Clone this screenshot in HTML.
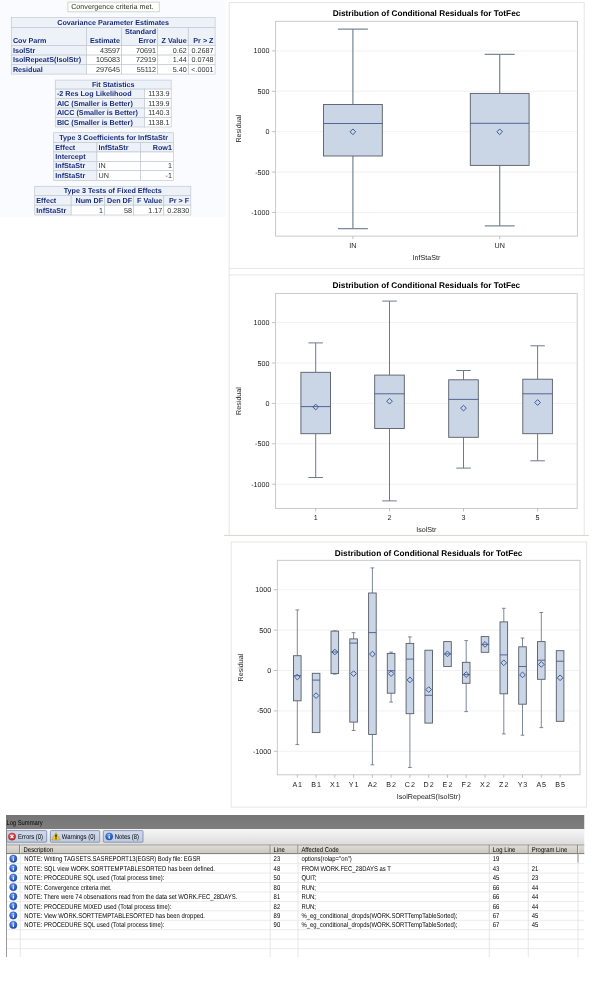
<!DOCTYPE html><html><head><meta charset="utf-8"><title>SAS Output</title><style>
html,body{margin:0;padding:0;background:#ffffff;}
body{width:610px;height:999px;overflow:hidden;}
svg{display:block;}
text{font-family:"Liberation Sans",sans-serif;text-rendering:geometricPrecision;}
.th{font-size:7.2px;font-weight:bold;fill:#1b2d7a;}
.td{font-size:7.2px;fill:#363636;}
.ax{font-size:7.15px;fill:#1c1c1c;}
.ti{font-size:8.28px;font-weight:bold;fill:#000;}
.lg{font-size:7.0px;fill:#000;}
</style></head><body>
<svg width="610" height="999" viewBox="0 0 610 999">
<rect x="0" y="0" width="225.7" height="217" fill="#fafbfe"/>
<rect x="67.9" y="2.1" width="91.3" height="9.7" fill="#fffffa" stroke="#c9c9c9" stroke-width="0.8"/>
<text class="td" x="112.3" y="9.0" text-anchor="middle" style="fill:#2c2c2c">Convergence criteria met.</text>
<rect x="11.30" y="17.60" width="203.80" height="9.90" fill="#edf2f9" stroke="#c3c8d2" stroke-width="0.7"/>
<text class="th" x="113.20" y="25.00" text-anchor="middle">Covariance Parameter Estimates</text>
<rect x="11.30" y="27.50" width="75.20" height="18.10" fill="#edf2f9" stroke="#c3c8d2" stroke-width="0.7"/>
<text class="th" x="12.90" y="43.10" text-anchor="start">Cov Parm</text>
<rect x="86.50" y="27.50" width="35.10" height="18.10" fill="#edf2f9" stroke="#c3c8d2" stroke-width="0.7"/>
<text class="th" x="120.00" y="43.10" text-anchor="end">Estimate</text>
<rect x="121.60" y="27.50" width="36.10" height="18.10" fill="#edf2f9" stroke="#c3c8d2" stroke-width="0.7"/>
<text class="th" x="156.10" y="34.00" text-anchor="end">Standard</text>
<text class="th" x="156.10" y="43.10" text-anchor="end">Error</text>
<rect x="157.70" y="27.50" width="30.60" height="18.10" fill="#edf2f9" stroke="#c3c8d2" stroke-width="0.7"/>
<text class="th" x="186.70" y="43.10" text-anchor="end">Z Value</text>
<rect x="188.30" y="27.50" width="26.80" height="18.10" fill="#edf2f9" stroke="#c3c8d2" stroke-width="0.7"/>
<text class="th" x="213.50" y="43.10" text-anchor="end">Pr &gt; Z</text>
<rect x="11.30" y="45.60" width="75.20" height="9.50" fill="#edf2f9" stroke="#c3c8d2" stroke-width="0.7"/>
<text class="th" x="12.90" y="52.60" text-anchor="start">IsolStr</text>
<rect x="86.50" y="45.60" width="35.10" height="9.50" fill="#ffffff" stroke="#c3c8d2" stroke-width="0.7"/>
<text class="td" x="120.00" y="52.60" text-anchor="end">43597</text>
<rect x="121.60" y="45.60" width="36.10" height="9.50" fill="#ffffff" stroke="#c3c8d2" stroke-width="0.7"/>
<text class="td" x="156.10" y="52.60" text-anchor="end">70691</text>
<rect x="157.70" y="45.60" width="30.60" height="9.50" fill="#ffffff" stroke="#c3c8d2" stroke-width="0.7"/>
<text class="td" x="186.70" y="52.60" text-anchor="end">0.62</text>
<rect x="188.30" y="45.60" width="26.80" height="9.50" fill="#ffffff" stroke="#c3c8d2" stroke-width="0.7"/>
<text class="td" x="213.50" y="52.60" text-anchor="end">0.2687</text>
<rect x="11.30" y="55.10" width="75.20" height="9.60" fill="#edf2f9" stroke="#c3c8d2" stroke-width="0.7"/>
<text class="th" x="12.90" y="62.20" text-anchor="start">IsolRepeatS(IsolStr)</text>
<rect x="86.50" y="55.10" width="35.10" height="9.60" fill="#ffffff" stroke="#c3c8d2" stroke-width="0.7"/>
<text class="td" x="120.00" y="62.20" text-anchor="end">105083</text>
<rect x="121.60" y="55.10" width="36.10" height="9.60" fill="#ffffff" stroke="#c3c8d2" stroke-width="0.7"/>
<text class="td" x="156.10" y="62.20" text-anchor="end">72919</text>
<rect x="157.70" y="55.10" width="30.60" height="9.60" fill="#ffffff" stroke="#c3c8d2" stroke-width="0.7"/>
<text class="td" x="186.70" y="62.20" text-anchor="end">1.44</text>
<rect x="188.30" y="55.10" width="26.80" height="9.60" fill="#ffffff" stroke="#c3c8d2" stroke-width="0.7"/>
<text class="td" x="213.50" y="62.20" text-anchor="end">0.0748</text>
<rect x="11.30" y="64.70" width="75.20" height="9.40" fill="#edf2f9" stroke="#c3c8d2" stroke-width="0.7"/>
<text class="th" x="12.90" y="71.60" text-anchor="start">Residual</text>
<rect x="86.50" y="64.70" width="35.10" height="9.40" fill="#ffffff" stroke="#c3c8d2" stroke-width="0.7"/>
<text class="td" x="120.00" y="71.60" text-anchor="end">297645</text>
<rect x="121.60" y="64.70" width="36.10" height="9.40" fill="#ffffff" stroke="#c3c8d2" stroke-width="0.7"/>
<text class="td" x="156.10" y="71.60" text-anchor="end">55112</text>
<rect x="157.70" y="64.70" width="30.60" height="9.40" fill="#ffffff" stroke="#c3c8d2" stroke-width="0.7"/>
<text class="td" x="186.70" y="71.60" text-anchor="end">5.40</text>
<rect x="188.30" y="64.70" width="26.80" height="9.40" fill="#ffffff" stroke="#c3c8d2" stroke-width="0.7"/>
<text class="td" x="213.50" y="71.60" text-anchor="end">&lt;.0001</text>
<rect x="55.30" y="80.10" width="115.90" height="9.00" fill="#edf2f9" stroke="#c3c8d2" stroke-width="0.7"/>
<text class="th" x="113.25" y="86.60" text-anchor="middle">Fit Statistics</text>
<rect x="55.30" y="89.10" width="89.10" height="9.40" fill="#edf2f9" stroke="#c3c8d2" stroke-width="0.7"/>
<text class="th" x="56.90" y="96.00" text-anchor="start">-2 Res Log Likelihood</text>
<rect x="144.40" y="89.10" width="26.80" height="9.40" fill="#ffffff" stroke="#c3c8d2" stroke-width="0.7"/>
<text class="td" x="169.60" y="96.00" text-anchor="end">1133.9</text>
<rect x="55.30" y="98.50" width="89.10" height="9.60" fill="#edf2f9" stroke="#c3c8d2" stroke-width="0.7"/>
<text class="th" x="56.90" y="105.60" text-anchor="start">AIC (Smaller is Better)</text>
<rect x="144.40" y="98.50" width="26.80" height="9.60" fill="#ffffff" stroke="#c3c8d2" stroke-width="0.7"/>
<text class="td" x="169.60" y="105.60" text-anchor="end">1139.9</text>
<rect x="55.30" y="108.10" width="89.10" height="9.40" fill="#edf2f9" stroke="#c3c8d2" stroke-width="0.7"/>
<text class="th" x="56.90" y="115.00" text-anchor="start">AICC (Smaller is Better)</text>
<rect x="144.40" y="108.10" width="26.80" height="9.40" fill="#ffffff" stroke="#c3c8d2" stroke-width="0.7"/>
<text class="td" x="169.60" y="115.00" text-anchor="end">1140.3</text>
<rect x="55.30" y="117.50" width="89.10" height="9.50" fill="#edf2f9" stroke="#c3c8d2" stroke-width="0.7"/>
<text class="th" x="56.90" y="124.50" text-anchor="start">BIC (Smaller is Better)</text>
<rect x="144.40" y="117.50" width="26.80" height="9.50" fill="#ffffff" stroke="#c3c8d2" stroke-width="0.7"/>
<text class="td" x="169.60" y="124.50" text-anchor="end">1138.1</text>
<rect x="53.70" y="132.70" width="119.80" height="9.80" fill="#edf2f9" stroke="#c3c8d2" stroke-width="0.7"/>
<text class="th" x="113.60" y="140.00" text-anchor="middle">Type 3 Coefficients for InfStaStr</text>
<rect x="53.70" y="142.50" width="43.20" height="9.50" fill="#edf2f9" stroke="#c3c8d2" stroke-width="0.7"/>
<text class="th" x="55.30" y="149.50" text-anchor="start">Effect</text>
<rect x="96.90" y="142.50" width="43.70" height="9.50" fill="#edf2f9" stroke="#c3c8d2" stroke-width="0.7"/>
<text class="th" x="98.50" y="149.50" text-anchor="start">InfStaStr</text>
<rect x="140.60" y="142.50" width="32.90" height="9.50" fill="#edf2f9" stroke="#c3c8d2" stroke-width="0.7"/>
<text class="th" x="171.90" y="149.50" text-anchor="end">Row1</text>
<rect x="53.70" y="152.00" width="43.20" height="9.40" fill="#edf2f9" stroke="#c3c8d2" stroke-width="0.7"/>
<text class="th" x="55.30" y="158.90" text-anchor="start">Intercept</text>
<rect x="96.90" y="152.00" width="43.70" height="9.40" fill="#ffffff" stroke="#c3c8d2" stroke-width="0.7"/>
<rect x="140.60" y="152.00" width="32.90" height="9.40" fill="#ffffff" stroke="#c3c8d2" stroke-width="0.7"/>
<rect x="53.70" y="161.40" width="43.20" height="9.30" fill="#edf2f9" stroke="#c3c8d2" stroke-width="0.7"/>
<text class="th" x="55.30" y="168.20" text-anchor="start">InfStaStr</text>
<rect x="96.90" y="161.40" width="43.70" height="9.30" fill="#ffffff" stroke="#c3c8d2" stroke-width="0.7"/>
<text class="td" x="98.50" y="168.20" text-anchor="start">IN</text>
<rect x="140.60" y="161.40" width="32.90" height="9.30" fill="#ffffff" stroke="#c3c8d2" stroke-width="0.7"/>
<text class="td" x="171.90" y="168.20" text-anchor="end">1</text>
<rect x="53.70" y="170.70" width="43.20" height="9.70" fill="#edf2f9" stroke="#c3c8d2" stroke-width="0.7"/>
<text class="th" x="55.30" y="177.90" text-anchor="start">InfStaStr</text>
<rect x="96.90" y="170.70" width="43.70" height="9.70" fill="#ffffff" stroke="#c3c8d2" stroke-width="0.7"/>
<text class="td" x="98.50" y="177.90" text-anchor="start">UN</text>
<rect x="140.60" y="170.70" width="32.90" height="9.70" fill="#ffffff" stroke="#c3c8d2" stroke-width="0.7"/>
<text class="td" x="171.90" y="177.90" text-anchor="end">-1</text>
<rect x="34.70" y="186.30" width="156.10" height="9.40" fill="#edf2f9" stroke="#c3c8d2" stroke-width="0.7"/>
<text class="th" x="112.75" y="193.20" text-anchor="middle">Type 3 Tests of Fixed Effects</text>
<rect x="34.70" y="195.70" width="36.50" height="9.50" fill="#edf2f9" stroke="#c3c8d2" stroke-width="0.7"/>
<text class="th" x="36.30" y="202.70" text-anchor="start">Effect</text>
<rect x="71.20" y="195.70" width="33.50" height="9.50" fill="#edf2f9" stroke="#c3c8d2" stroke-width="0.7"/>
<text class="th" x="103.10" y="202.70" text-anchor="end">Num DF</text>
<rect x="104.70" y="195.70" width="29.00" height="9.50" fill="#edf2f9" stroke="#c3c8d2" stroke-width="0.7"/>
<text class="th" x="132.10" y="202.70" text-anchor="end">Den DF</text>
<rect x="133.70" y="195.70" width="30.10" height="9.50" fill="#edf2f9" stroke="#c3c8d2" stroke-width="0.7"/>
<text class="th" x="162.20" y="202.70" text-anchor="end">F Value</text>
<rect x="163.80" y="195.70" width="27.00" height="9.50" fill="#edf2f9" stroke="#c3c8d2" stroke-width="0.7"/>
<text class="th" x="189.20" y="202.70" text-anchor="end">Pr &gt; F</text>
<rect x="34.70" y="205.20" width="36.50" height="9.80" fill="#edf2f9" stroke="#c3c8d2" stroke-width="0.7"/>
<text class="th" x="36.30" y="212.50" text-anchor="start">InfStaStr</text>
<rect x="71.20" y="205.20" width="33.50" height="9.80" fill="#ffffff" stroke="#c3c8d2" stroke-width="0.7"/>
<text class="td" x="103.10" y="212.50" text-anchor="end">1</text>
<rect x="104.70" y="205.20" width="29.00" height="9.80" fill="#ffffff" stroke="#c3c8d2" stroke-width="0.7"/>
<text class="td" x="132.10" y="212.50" text-anchor="end">58</text>
<rect x="133.70" y="205.20" width="30.10" height="9.80" fill="#ffffff" stroke="#c3c8d2" stroke-width="0.7"/>
<text class="td" x="162.20" y="212.50" text-anchor="end">1.17</text>
<rect x="163.80" y="205.20" width="27.00" height="9.80" fill="#ffffff" stroke="#c3c8d2" stroke-width="0.7"/>
<text class="td" x="189.20" y="212.50" text-anchor="end">0.2830</text>
<rect x="229.2" y="2.6" width="355.00" height="266.00" fill="#ffffff" stroke="#e1e3e7" stroke-width="0.9"/><line x1="275.6" y1="50.90" x2="577.4" y2="50.90" stroke="#eeeeee" stroke-width="0.8"/><line x1="272.20" y1="50.90" x2="275.6" y2="50.90" stroke="#b0b0b0" stroke-width="0.8"/><text class="ax" x="269.50" y="53.45" text-anchor="end">1000</text><line x1="275.6" y1="91.30" x2="577.4" y2="91.30" stroke="#eeeeee" stroke-width="0.8"/><line x1="272.20" y1="91.30" x2="275.6" y2="91.30" stroke="#b0b0b0" stroke-width="0.8"/><text class="ax" x="269.50" y="93.85" text-anchor="end">500</text><line x1="275.6" y1="131.70" x2="577.4" y2="131.70" stroke="#eeeeee" stroke-width="0.8"/><line x1="272.20" y1="131.70" x2="275.6" y2="131.70" stroke="#b0b0b0" stroke-width="0.8"/><text class="ax" x="269.50" y="134.25" text-anchor="end">0</text><line x1="275.6" y1="172.10" x2="577.4" y2="172.10" stroke="#eeeeee" stroke-width="0.8"/><line x1="272.20" y1="172.10" x2="275.6" y2="172.10" stroke="#b0b0b0" stroke-width="0.8"/><text class="ax" x="269.50" y="174.65" text-anchor="end">-500</text><line x1="275.6" y1="212.50" x2="577.4" y2="212.50" stroke="#eeeeee" stroke-width="0.8"/><line x1="272.20" y1="212.50" x2="275.6" y2="212.50" stroke="#b0b0b0" stroke-width="0.8"/><text class="ax" x="269.50" y="215.05" text-anchor="end">-1000</text><rect x="275.6" y="21.3" width="301.80" height="214.80" fill="none" stroke="#c2c2c2" stroke-width="0.85"/><text class="ti" x="426.50" y="16.45" text-anchor="middle">Distribution of Conditional Residuals for TotFec</text><text class="ax" x="426.50" y="260.15" text-anchor="middle">InfStaStr</text><text class="ax" transform="translate(240.85,128.70) rotate(-90)" text-anchor="middle">Residual</text><line x1="352.9" y1="236.1" x2="352.9" y2="239.1" stroke="#b0b0b0" stroke-width="0.8"/><text class="ax" x="352.9" y="247.85" text-anchor="middle" style="word-spacing:-0.9px">IN</text><path d="M352.9 29.1V104.5M352.9 156.0V228.5M337.90 29.1H367.90M337.90 228.5H367.90" stroke="#7a899c" stroke-width="1.25" fill="none"/><rect x="323.50" y="104.5" width="58.8" height="51.50" fill="#cad5e5" stroke="#565d68" stroke-width="0.9"/><line x1="323.50" y1="123.5" x2="382.30" y2="123.5" stroke="#44598f" stroke-width="0.9"/><path d="M352.9 128.95L355.75 131.8L352.9 134.65L350.05 131.8Z" fill="none" stroke="#3f5a9a" stroke-width="1.0"/><line x1="499.7" y1="236.1" x2="499.7" y2="239.1" stroke="#b0b0b0" stroke-width="0.8"/><text class="ax" x="499.7" y="247.85" text-anchor="middle" style="word-spacing:-0.9px">UN</text><path d="M499.7 54.3V93.4M499.7 165.4V225.8M484.70 54.3H514.70M484.70 225.8H514.70" stroke="#7a899c" stroke-width="1.25" fill="none"/><rect x="470.30" y="93.4" width="58.8" height="72.00" fill="#cad5e5" stroke="#565d68" stroke-width="0.9"/><line x1="470.30" y1="123.3" x2="529.10" y2="123.3" stroke="#44598f" stroke-width="0.9"/><path d="M499.7 128.95L502.55 131.8L499.7 134.65L496.85 131.8Z" fill="none" stroke="#3f5a9a" stroke-width="1.0"/>
<rect x="229.2" y="274.9" width="355.00" height="265.10" fill="#ffffff" stroke="#e1e3e7" stroke-width="0.9"/><line x1="275.5" y1="322.60" x2="577.2" y2="322.60" stroke="#eeeeee" stroke-width="0.8"/><line x1="272.10" y1="322.60" x2="275.5" y2="322.60" stroke="#b0b0b0" stroke-width="0.8"/><text class="ax" x="269.40" y="325.15" text-anchor="end">1000</text><line x1="275.5" y1="363.00" x2="577.2" y2="363.00" stroke="#eeeeee" stroke-width="0.8"/><line x1="272.10" y1="363.00" x2="275.5" y2="363.00" stroke="#b0b0b0" stroke-width="0.8"/><text class="ax" x="269.40" y="365.55" text-anchor="end">500</text><line x1="275.5" y1="403.40" x2="577.2" y2="403.40" stroke="#eeeeee" stroke-width="0.8"/><line x1="272.10" y1="403.40" x2="275.5" y2="403.40" stroke="#b0b0b0" stroke-width="0.8"/><text class="ax" x="269.40" y="405.95" text-anchor="end">0</text><line x1="275.5" y1="443.80" x2="577.2" y2="443.80" stroke="#eeeeee" stroke-width="0.8"/><line x1="272.10" y1="443.80" x2="275.5" y2="443.80" stroke="#b0b0b0" stroke-width="0.8"/><text class="ax" x="269.40" y="446.35" text-anchor="end">-500</text><line x1="275.5" y1="484.20" x2="577.2" y2="484.20" stroke="#eeeeee" stroke-width="0.8"/><line x1="272.10" y1="484.20" x2="275.5" y2="484.20" stroke="#b0b0b0" stroke-width="0.8"/><text class="ax" x="269.40" y="486.75" text-anchor="end">-1000</text><rect x="275.5" y="293.6" width="301.70" height="214.80" fill="none" stroke="#c2c2c2" stroke-width="0.85"/><text class="ti" x="426.35" y="288.45" text-anchor="middle">Distribution of Conditional Residuals for TotFec</text><text class="ax" x="426.35" y="531.75" text-anchor="middle">IsolStr</text><text class="ax" transform="translate(240.85,401.00) rotate(-90)" text-anchor="middle">Residual</text><line x1="315.7" y1="508.4" x2="315.7" y2="511.4" stroke="#b0b0b0" stroke-width="0.8"/><text class="ax" x="315.7" y="520.15" text-anchor="middle" style="word-spacing:-0.9px">1</text><path d="M315.7 342.9V372.3M315.7 433.7V477.5M308.45 342.9H322.95M308.45 477.5H322.95" stroke="#6d7b8e" stroke-width="1.0" fill="none"/><rect x="300.90" y="372.3" width="29.6" height="61.40" fill="#cad5e5" stroke="#565d68" stroke-width="0.9"/><line x1="300.90" y1="406.6" x2="330.50" y2="406.6" stroke="#44598f" stroke-width="0.9"/><path d="M315.7 404.15L318.55 407.0L315.7 409.85L312.85 407.0Z" fill="none" stroke="#3f5a9a" stroke-width="1.0"/><line x1="389.5" y1="508.4" x2="389.5" y2="511.4" stroke="#b0b0b0" stroke-width="0.8"/><text class="ax" x="389.5" y="520.15" text-anchor="middle" style="word-spacing:-0.9px">2</text><path d="M389.5 301.1V375.1M389.5 428.5V500.9M382.25 301.1H396.75M382.25 500.9H396.75" stroke="#6d7b8e" stroke-width="1.0" fill="none"/><rect x="374.70" y="375.1" width="29.6" height="53.40" fill="#cad5e5" stroke="#565d68" stroke-width="0.9"/><line x1="374.70" y1="393.8" x2="404.30" y2="393.8" stroke="#44598f" stroke-width="0.9"/><path d="M389.5 398.35L392.35 401.2L389.5 404.05L386.65 401.2Z" fill="none" stroke="#3f5a9a" stroke-width="1.0"/><line x1="463.5" y1="508.4" x2="463.5" y2="511.4" stroke="#b0b0b0" stroke-width="0.8"/><text class="ax" x="463.5" y="520.15" text-anchor="middle" style="word-spacing:-0.9px">3</text><path d="M463.5 370.5V379.8M463.5 437.3V468.1M456.25 370.5H470.75M456.25 468.1H470.75" stroke="#6d7b8e" stroke-width="1.0" fill="none"/><rect x="448.70" y="379.8" width="29.6" height="57.50" fill="#cad5e5" stroke="#565d68" stroke-width="0.9"/><line x1="448.70" y1="399.4" x2="478.30" y2="399.4" stroke="#44598f" stroke-width="0.9"/><path d="M463.5 405.25L466.35 408.1L463.5 410.95L460.65 408.1Z" fill="none" stroke="#3f5a9a" stroke-width="1.0"/><line x1="537.6" y1="508.4" x2="537.6" y2="511.4" stroke="#b0b0b0" stroke-width="0.8"/><text class="ax" x="537.6" y="520.15" text-anchor="middle" style="word-spacing:-0.9px">5</text><path d="M537.6 345.8V379.2M537.6 433.7V460.8M530.35 345.8H544.85M530.35 460.8H544.85" stroke="#6d7b8e" stroke-width="1.0" fill="none"/><rect x="522.80" y="379.2" width="29.6" height="54.50" fill="#cad5e5" stroke="#565d68" stroke-width="0.9"/><line x1="522.80" y1="393.8" x2="552.40" y2="393.8" stroke="#44598f" stroke-width="0.9"/><path d="M537.6 399.65L540.45 402.5L537.6 405.35L534.75 402.5Z" fill="none" stroke="#3f5a9a" stroke-width="1.0"/>
<rect x="222" y="535.8" width="372" height="5.6" fill="#ffffff"/>
<line x1="224" y1="535.4" x2="589" y2="535.4" stroke="#d6d6cd" stroke-width="1"/>
<path d="M229.2 268V275.5M584.2 268V275.5" stroke="#e4e5ea" stroke-width="0.9" fill="none"/>
<rect x="231.2" y="542.0" width="355.30" height="265.10" fill="#ffffff" stroke="#e1e3e7" stroke-width="0.9"/><line x1="277.3" y1="589.70" x2="580.0" y2="589.70" stroke="#eeeeee" stroke-width="0.8"/><line x1="273.90" y1="589.70" x2="277.3" y2="589.70" stroke="#b0b0b0" stroke-width="0.8"/><text class="ax" x="271.20" y="592.25" text-anchor="end">1000</text><line x1="277.3" y1="630.10" x2="580.0" y2="630.10" stroke="#eeeeee" stroke-width="0.8"/><line x1="273.90" y1="630.10" x2="277.3" y2="630.10" stroke="#b0b0b0" stroke-width="0.8"/><text class="ax" x="271.20" y="632.65" text-anchor="end">500</text><line x1="277.3" y1="670.50" x2="580.0" y2="670.50" stroke="#eeeeee" stroke-width="0.8"/><line x1="273.90" y1="670.50" x2="277.3" y2="670.50" stroke="#b0b0b0" stroke-width="0.8"/><text class="ax" x="271.20" y="673.05" text-anchor="end">0</text><line x1="277.3" y1="710.90" x2="580.0" y2="710.90" stroke="#eeeeee" stroke-width="0.8"/><line x1="273.90" y1="710.90" x2="277.3" y2="710.90" stroke="#b0b0b0" stroke-width="0.8"/><text class="ax" x="271.20" y="713.45" text-anchor="end">-500</text><line x1="277.3" y1="751.30" x2="580.0" y2="751.30" stroke="#eeeeee" stroke-width="0.8"/><line x1="273.90" y1="751.30" x2="277.3" y2="751.30" stroke="#b0b0b0" stroke-width="0.8"/><text class="ax" x="271.20" y="753.85" text-anchor="end">-1000</text><rect x="277.3" y="560.3" width="302.70" height="214.50" fill="none" stroke="#c2c2c2" stroke-width="0.85"/><text class="ti" x="428.65" y="555.75" text-anchor="middle">Distribution of Conditional Residuals for TotFec</text><text class="ax" x="428.65" y="799.05" text-anchor="middle">IsolRepeatS(IsolStr)</text><text class="ax" transform="translate(242.85,667.55) rotate(-90)" text-anchor="middle">Residual</text><line x1="297.3" y1="774.8" x2="297.3" y2="777.8" stroke="#b0b0b0" stroke-width="0.8"/><text class="ax" x="297.3" y="787.15" text-anchor="middle" style="word-spacing:-0.9px">A 1</text><path d="M297.3 609.9V655.7M297.3 700.8V744.6M295.45 609.9H299.15M295.45 744.6H299.15" stroke="#65738a" stroke-width="0.85" fill="none"/><rect x="293.50" y="655.7" width="7.6" height="45.10" fill="#cad5e5" stroke="#565d68" stroke-width="0.9"/><line x1="293.50" y1="675.7" x2="301.10" y2="675.7" stroke="#44598f" stroke-width="0.9"/><path d="M297.3 674.15L300.15 677.0L297.3 679.85L294.45 677.0Z" fill="none" stroke="#3f5a9a" stroke-width="1.0"/><line x1="316.1" y1="774.8" x2="316.1" y2="777.8" stroke="#b0b0b0" stroke-width="0.8"/><text class="ax" x="316.1" y="787.15" text-anchor="middle" style="word-spacing:-0.9px">B 1</text><rect x="312.30" y="673.3" width="7.6" height="59.30" fill="#cad5e5" stroke="#565d68" stroke-width="0.9"/><line x1="312.30" y1="680.1" x2="319.90" y2="680.1" stroke="#44598f" stroke-width="0.9"/><path d="M316.1 692.75L318.95 695.6L316.1 698.45L313.25 695.6Z" fill="none" stroke="#3f5a9a" stroke-width="1.0"/><line x1="334.8" y1="774.8" x2="334.8" y2="777.8" stroke="#b0b0b0" stroke-width="0.8"/><text class="ax" x="334.8" y="787.15" text-anchor="middle" style="word-spacing:-0.9px">X 1</text><path d="M334.8 630.9V631.1M334.8 673.6V674.1M332.95 630.9H336.65M332.95 674.1H336.65" stroke="#65738a" stroke-width="0.85" fill="none"/><rect x="331.00" y="631.1" width="7.6" height="42.50" fill="#cad5e5" stroke="#565d68" stroke-width="0.9"/><line x1="331.00" y1="652.0" x2="338.60" y2="652.0" stroke="#44598f" stroke-width="0.9"/><path d="M334.8 649.15L337.65 652.0L334.8 654.85L331.95 652.0Z" fill="none" stroke="#3f5a9a" stroke-width="1.0"/><line x1="353.6" y1="774.8" x2="353.6" y2="777.8" stroke="#b0b0b0" stroke-width="0.8"/><text class="ax" x="353.6" y="787.15" text-anchor="middle" style="word-spacing:-0.9px">Y 1</text><path d="M353.6 632.7V638.9M353.6 722.1V730.5M351.75 632.7H355.45M351.75 730.5H355.45" stroke="#65738a" stroke-width="0.85" fill="none"/><rect x="349.80" y="638.9" width="7.6" height="83.20" fill="#cad5e5" stroke="#565d68" stroke-width="0.9"/><line x1="349.80" y1="643.1" x2="357.40" y2="643.1" stroke="#44598f" stroke-width="0.9"/><path d="M353.6 670.75L356.45 673.6L353.6 676.45L350.75 673.6Z" fill="none" stroke="#3f5a9a" stroke-width="1.0"/><line x1="372.4" y1="774.8" x2="372.4" y2="777.8" stroke="#b0b0b0" stroke-width="0.8"/><text class="ax" x="372.4" y="787.15" text-anchor="middle" style="word-spacing:-0.9px">A 2</text><path d="M372.4 567.9V593.0M372.4 734.4V764.8M370.55 567.9H374.25M370.55 764.8H374.25" stroke="#65738a" stroke-width="0.85" fill="none"/><rect x="368.60" y="593.0" width="7.6" height="141.40" fill="#cad5e5" stroke="#565d68" stroke-width="0.9"/><line x1="368.60" y1="632.6" x2="376.20" y2="632.6" stroke="#44598f" stroke-width="0.9"/><path d="M372.4 651.25L375.25 654.1L372.4 656.95L369.55 654.1Z" fill="none" stroke="#3f5a9a" stroke-width="1.0"/><line x1="391.1" y1="774.8" x2="391.1" y2="777.8" stroke="#b0b0b0" stroke-width="0.8"/><text class="ax" x="391.1" y="787.15" text-anchor="middle" style="word-spacing:-0.9px">B 2</text><path d="M391.1 652.1V653.4M391.1 693.2V702.1M389.25 652.1H392.95M389.25 702.1H392.95" stroke="#65738a" stroke-width="0.85" fill="none"/><rect x="387.30" y="653.4" width="7.6" height="39.80" fill="#cad5e5" stroke="#565d68" stroke-width="0.9"/><line x1="387.30" y1="670.7" x2="394.90" y2="670.7" stroke="#44598f" stroke-width="0.9"/><path d="M391.1 670.75L393.95 673.6L391.1 676.45L388.25 673.6Z" fill="none" stroke="#3f5a9a" stroke-width="1.0"/><line x1="409.9" y1="774.8" x2="409.9" y2="777.8" stroke="#b0b0b0" stroke-width="0.8"/><text class="ax" x="409.9" y="787.15" text-anchor="middle" style="word-spacing:-0.9px">C 2</text><path d="M409.9 636.9V643.4M409.9 713.7V767.5M408.05 636.9H411.75M408.05 767.5H411.75" stroke="#65738a" stroke-width="0.85" fill="none"/><rect x="406.10" y="643.4" width="7.6" height="70.30" fill="#cad5e5" stroke="#565d68" stroke-width="0.9"/><line x1="406.10" y1="659.1" x2="413.70" y2="659.1" stroke="#44598f" stroke-width="0.9"/><path d="M409.9 677.05L412.75 679.9L409.9 682.75L407.05 679.9Z" fill="none" stroke="#3f5a9a" stroke-width="1.0"/><line x1="428.7" y1="774.8" x2="428.7" y2="777.8" stroke="#b0b0b0" stroke-width="0.8"/><text class="ax" x="428.7" y="787.15" text-anchor="middle" style="word-spacing:-0.9px">D 2</text><rect x="424.90" y="650.2" width="7.6" height="72.90" fill="#cad5e5" stroke="#565d68" stroke-width="0.9"/><line x1="424.90" y1="695.3" x2="432.50" y2="695.3" stroke="#44598f" stroke-width="0.9"/><path d="M428.7 686.75L431.55 689.6L428.7 692.45L425.85 689.6Z" fill="none" stroke="#3f5a9a" stroke-width="1.0"/><line x1="447.5" y1="774.8" x2="447.5" y2="777.8" stroke="#b0b0b0" stroke-width="0.8"/><text class="ax" x="447.5" y="787.15" text-anchor="middle" style="word-spacing:-0.9px">E 2</text><rect x="443.70" y="641.6" width="7.6" height="24.90" fill="#cad5e5" stroke="#565d68" stroke-width="0.9"/><line x1="443.70" y1="653.9" x2="451.30" y2="653.9" stroke="#44598f" stroke-width="0.9"/><path d="M447.5 651.05L450.35 653.9L447.5 656.75L444.65 653.9Z" fill="none" stroke="#3f5a9a" stroke-width="1.0"/><line x1="466.2" y1="774.8" x2="466.2" y2="777.8" stroke="#b0b0b0" stroke-width="0.8"/><text class="ax" x="466.2" y="787.15" text-anchor="middle" style="word-spacing:-0.9px">F 2</text><path d="M466.2 640.6V662.3M466.2 683.3V711.6M464.35 640.6H468.05M464.35 711.6H468.05" stroke="#65738a" stroke-width="0.85" fill="none"/><rect x="462.40" y="662.3" width="7.6" height="21.00" fill="#cad5e5" stroke="#565d68" stroke-width="0.9"/><line x1="462.40" y1="674.6" x2="470.00" y2="674.6" stroke="#44598f" stroke-width="0.9"/><path d="M466.2 671.75L469.05 674.6L466.2 677.45L463.35 674.6Z" fill="none" stroke="#3f5a9a" stroke-width="1.0"/><line x1="485.0" y1="774.8" x2="485.0" y2="777.8" stroke="#b0b0b0" stroke-width="0.8"/><text class="ax" x="485.0" y="787.15" text-anchor="middle" style="word-spacing:-0.9px">X 2</text><rect x="481.20" y="636.6" width="7.6" height="15.70" fill="#cad5e5" stroke="#565d68" stroke-width="0.9"/><line x1="481.20" y1="644.4" x2="488.80" y2="644.4" stroke="#44598f" stroke-width="0.9"/><path d="M485.0 641.55L487.85 644.4L485.0 647.25L482.15 644.4Z" fill="none" stroke="#3f5a9a" stroke-width="1.0"/><line x1="503.8" y1="774.8" x2="503.8" y2="777.8" stroke="#b0b0b0" stroke-width="0.8"/><text class="ax" x="503.8" y="787.15" text-anchor="middle" style="word-spacing:-0.9px">Z 2</text><path d="M503.8 608.3V621.9M503.8 693.8V733.9M501.95 608.3H505.65M501.95 733.9H505.65" stroke="#65738a" stroke-width="0.85" fill="none"/><rect x="500.00" y="621.9" width="7.6" height="71.90" fill="#cad5e5" stroke="#565d68" stroke-width="0.9"/><line x1="500.00" y1="654.9" x2="507.60" y2="654.9" stroke="#44598f" stroke-width="0.9"/><path d="M503.8 659.95L506.65 662.8L503.8 665.65L500.95 662.8Z" fill="none" stroke="#3f5a9a" stroke-width="1.0"/><line x1="522.5" y1="774.8" x2="522.5" y2="777.8" stroke="#b0b0b0" stroke-width="0.8"/><text class="ax" x="522.5" y="787.15" text-anchor="middle" style="word-spacing:-0.9px">Y 3</text><path d="M522.5 638.0V646.8M522.5 704.2V735.2M520.65 638.0H524.35M520.65 735.2H524.35" stroke="#65738a" stroke-width="0.85" fill="none"/><rect x="518.70" y="646.8" width="7.6" height="57.40" fill="#cad5e5" stroke="#565d68" stroke-width="0.9"/><line x1="518.70" y1="666.5" x2="526.30" y2="666.5" stroke="#44598f" stroke-width="0.9"/><path d="M522.5 672.05L525.35 674.9L522.5 677.75L519.65 674.9Z" fill="none" stroke="#3f5a9a" stroke-width="1.0"/><line x1="541.3" y1="774.8" x2="541.3" y2="777.8" stroke="#b0b0b0" stroke-width="0.8"/><text class="ax" x="541.3" y="787.15" text-anchor="middle" style="word-spacing:-0.9px">A 5</text><path d="M541.3 612.5V641.6M541.3 679.3V727.6M539.45 612.5H543.15M539.45 727.6H543.15" stroke="#65738a" stroke-width="0.85" fill="none"/><rect x="537.50" y="641.6" width="7.6" height="37.70" fill="#cad5e5" stroke="#565d68" stroke-width="0.9"/><line x1="537.50" y1="660.2" x2="545.10" y2="660.2" stroke="#44598f" stroke-width="0.9"/><path d="M541.3 661.55L544.15 664.4L541.3 667.25L538.45 664.4Z" fill="none" stroke="#3f5a9a" stroke-width="1.0"/><line x1="560.1" y1="774.8" x2="560.1" y2="777.8" stroke="#b0b0b0" stroke-width="0.8"/><text class="ax" x="560.1" y="787.15" text-anchor="middle" style="word-spacing:-0.9px">B 5</text><rect x="556.30" y="650.7" width="7.6" height="70.60" fill="#cad5e5" stroke="#565d68" stroke-width="0.9"/><line x1="556.30" y1="661.2" x2="563.90" y2="661.2" stroke="#44598f" stroke-width="0.9"/><path d="M560.1 674.95L562.95 677.8L560.1 680.65L557.25 677.8Z" fill="none" stroke="#3f5a9a" stroke-width="1.0"/>
<defs><linearGradient id="gt" x1="0" y1="0" x2="0" y2="1"><stop offset="0" stop-color="#757575"/><stop offset="1" stop-color="#7e7e7e"/></linearGradient><linearGradient id="gb" x1="0" y1="0" x2="0" y2="1"><stop offset="0" stop-color="#f6f6f6"/><stop offset="1" stop-color="#dcdcdc"/></linearGradient><linearGradient id="gh" x1="0" y1="0" x2="0" y2="1"><stop offset="0" stop-color="#e0ded7"/><stop offset="1" stop-color="#c9c6be"/></linearGradient><radialGradient id="gi" cx="0.4" cy="0.3" r="0.75"><stop offset="0" stop-color="#7ea6ee"/><stop offset="0.55" stop-color="#2f66cc"/><stop offset="1" stop-color="#1c46a0"/></radialGradient><radialGradient id="ge" cx="0.4" cy="0.3" r="0.75"><stop offset="0" stop-color="#f08a8a"/><stop offset="0.55" stop-color="#d43a3e"/><stop offset="1" stop-color="#a32226"/></radialGradient><linearGradient id="gbt" x1="0" y1="0" x2="0" y2="1"><stop offset="0" stop-color="#d3dbeb"/><stop offset="1" stop-color="#bfcae0"/></linearGradient><clipPath id="lc"><rect x="6" y="815" width="578.5" height="142"/></clipPath></defs>
<g clip-path="url(#lc)">
<rect x="6.0" y="814.9" width="578.5" height="14.2" fill="url(#gt)"/>
<text class="lg" transform="translate(6.4,824.9) scale(0.83,1)" fill="#1a1a1a">Log Summary</text>
<rect x="6.0" y="829.2" width="578.5" height="15.4" fill="url(#gb)"/>
<rect x="6.6" y="830.6" width="40.10" height="11.6" rx="0.8" fill="url(#gbt)" stroke="#7585a8" stroke-width="0.8"/>
<text class="lg" transform="translate(18.00,839.10) scale(0.845,1)" >Errors (0)</text>
<circle cx="12.0" cy="836.6" r="3.65" fill="url(#ge)" stroke="#9c2327" stroke-width="0.5"/><path d="M10.55 835.15L13.45 838.05M13.45 835.15L10.55 838.05" stroke="#fff" stroke-width="1.1"/>
<rect x="50.4" y="830.6" width="49.30" height="11.6" rx="0.8" fill="url(#gbt)" stroke="#7585a8" stroke-width="0.8"/>
<text class="lg" transform="translate(61.80,839.10) scale(0.845,1)" >Warnings (0)</text>
<path d="M56.0 832.5L60.2 840.0H51.8Z" fill="#f5cf2e" stroke="#a8881a" stroke-width="0.5" stroke-linejoin="round"/><path d="M56.0 834.6V837.6M56.0 838.3V839.3" stroke="#111" stroke-width="1.3"/>
<rect x="103.3" y="830.6" width="39.70" height="11.6" rx="0.8" fill="url(#gbt)" stroke="#7585a8" stroke-width="0.8"/>
<text class="lg" transform="translate(114.70,839.10) scale(0.845,1)" >Notes (8)</text>
<circle cx="109.20" cy="836.50" r="3.6" fill="url(#gi)" stroke="#2a4f9c" stroke-width="0.45"/><path d="M109.20 835.90V838.70M109.20 834.20V835.10" stroke="#fff" stroke-width="1.15"/>
<rect x="6.0" y="844.9" width="578.5" height="8.70" fill="url(#gh)"/>
<line x1="6.0" y1="844.9" x2="584.5" y2="844.9" stroke="#8a8a8a" stroke-width="0.8"/><line x1="6.0" y1="853.6" x2="584.5" y2="853.6" stroke="#707070" stroke-width="0.9"/>
<line x1="19.5" y1="844.9" x2="19.5" y2="853.6" stroke="#666" stroke-width="0.8"/><line x1="20.3" y1="845.4" x2="20.3" y2="853.1" stroke="#f4f4f0" stroke-width="0.6"/>
<line x1="20.2" y1="853.6" x2="20.2" y2="957" stroke="#dcdcdc" stroke-width="0.7"/>
<line x1="270.2" y1="844.9" x2="270.2" y2="853.6" stroke="#666" stroke-width="0.8"/><line x1="271.0" y1="845.4" x2="271.0" y2="853.1" stroke="#f4f4f0" stroke-width="0.6"/>
<line x1="270.2" y1="853.6" x2="270.2" y2="957" stroke="#dcdcdc" stroke-width="0.7"/>
<line x1="298.0" y1="844.9" x2="298.0" y2="853.6" stroke="#666" stroke-width="0.8"/><line x1="298.8" y1="845.4" x2="298.8" y2="853.1" stroke="#f4f4f0" stroke-width="0.6"/>
<line x1="298.0" y1="853.6" x2="298.0" y2="957" stroke="#dcdcdc" stroke-width="0.7"/>
<line x1="489.3" y1="844.9" x2="489.3" y2="853.6" stroke="#666" stroke-width="0.8"/><line x1="490.1" y1="845.4" x2="490.1" y2="853.1" stroke="#f4f4f0" stroke-width="0.6"/>
<line x1="489.3" y1="853.6" x2="489.3" y2="957" stroke="#dcdcdc" stroke-width="0.7"/>
<line x1="528.3" y1="844.9" x2="528.3" y2="853.6" stroke="#666" stroke-width="0.8"/><line x1="529.0999999999999" y1="845.4" x2="529.0999999999999" y2="853.1" stroke="#f4f4f0" stroke-width="0.6"/>
<line x1="528.3" y1="853.6" x2="528.3" y2="957" stroke="#dcdcdc" stroke-width="0.7"/>
<line x1="577.5" y1="844.9" x2="577.5" y2="853.6" stroke="#666" stroke-width="0.8"/><line x1="578.3" y1="845.4" x2="578.3" y2="853.1" stroke="#f4f4f0" stroke-width="0.6"/>
<line x1="578.0" y1="853.6" x2="578.0" y2="957" stroke="#dcdcdc" stroke-width="0.7"/>
<text class="lg" transform="translate(23.60,852.10) scale(0.845,1)" >Description</text>
<text class="lg" transform="translate(273.60,852.10) scale(0.845,1)" >Line</text>
<text class="lg" transform="translate(301.40,852.10) scale(0.845,1)" >Affected Code</text>
<text class="lg" transform="translate(492.70,852.10) scale(0.845,1)" >Log Line</text>
<text class="lg" transform="translate(531.70,852.10) scale(0.845,1)" >Program Line</text>
<line x1="6.0" y1="863.64" x2="584.5" y2="863.64" stroke="#e3e3e3" stroke-width="0.7"/>
<line x1="6.0" y1="873.08" x2="584.5" y2="873.08" stroke="#e3e3e3" stroke-width="0.7"/>
<line x1="6.0" y1="882.52" x2="584.5" y2="882.52" stroke="#e3e3e3" stroke-width="0.7"/>
<line x1="6.0" y1="891.96" x2="584.5" y2="891.96" stroke="#e3e3e3" stroke-width="0.7"/>
<line x1="6.0" y1="901.40" x2="584.5" y2="901.40" stroke="#e3e3e3" stroke-width="0.7"/>
<line x1="6.0" y1="910.84" x2="584.5" y2="910.84" stroke="#e3e3e3" stroke-width="0.7"/>
<line x1="6.0" y1="920.28" x2="584.5" y2="920.28" stroke="#e3e3e3" stroke-width="0.7"/>
<line x1="6.0" y1="929.72" x2="584.5" y2="929.72" stroke="#e3e3e3" stroke-width="0.7"/>
<line x1="6.0" y1="939.16" x2="584.5" y2="939.16" stroke="#e3e3e3" stroke-width="0.7"/>
<line x1="6.0" y1="948.60" x2="584.5" y2="948.60" stroke="#e3e3e3" stroke-width="0.7"/>
<line x1="6.0" y1="958.04" x2="584.5" y2="958.04" stroke="#e3e3e3" stroke-width="0.7"/>
<circle cx="13.30" cy="858.80" r="3.7" fill="url(#gi)" stroke="#2a4f9c" stroke-width="0.45"/><path d="M13.30 858.20V861.00M13.30 856.50V857.40" stroke="#fff" stroke-width="1.15"/>
<text class="lg" transform="translate(24.20,861.40) scale(0.845,1)" >NOTE: Writing TAGSETS.SASREPORT13(EGSR) Body file: EGSR</text>
<text class="lg" transform="translate(273.60,861.40) scale(0.845,1)" >23</text>
<text class="lg" transform="translate(301.40,861.40) scale(0.845,1)" >options(rolap=&quot;on&quot;)</text>
<text class="lg" transform="translate(492.70,861.40) scale(0.845,1)" >19</text>
<circle cx="13.30" cy="868.24" r="3.7" fill="url(#gi)" stroke="#2a4f9c" stroke-width="0.45"/><path d="M13.30 867.64V870.44M13.30 865.94V866.84" stroke="#fff" stroke-width="1.15"/>
<text class="lg" transform="translate(24.20,870.84) scale(0.845,1)" >NOTE: SQL view WORK.SORTTEMPTABLESORTED has been defined.</text>
<text class="lg" transform="translate(273.60,870.84) scale(0.845,1)" >48</text>
<text class="lg" transform="translate(301.40,870.84) scale(0.845,1)" >FROM WORK.FEC_28DAYS as T</text>
<text class="lg" transform="translate(492.70,870.84) scale(0.845,1)" >43</text>
<text class="lg" transform="translate(531.70,870.84) scale(0.845,1)" >21</text>
<circle cx="13.30" cy="877.68" r="3.7" fill="url(#gi)" stroke="#2a4f9c" stroke-width="0.45"/><path d="M13.30 877.08V879.88M13.30 875.38V876.28" stroke="#fff" stroke-width="1.15"/>
<text class="lg" transform="translate(24.20,880.28) scale(0.845,1)" >NOTE: PROCEDURE SQL used (Total process time):</text>
<text class="lg" transform="translate(273.60,880.28) scale(0.845,1)" >50</text>
<text class="lg" transform="translate(301.40,880.28) scale(0.845,1)" >QUIT;</text>
<text class="lg" transform="translate(492.70,880.28) scale(0.845,1)" >45</text>
<text class="lg" transform="translate(531.70,880.28) scale(0.845,1)" >23</text>
<circle cx="13.30" cy="887.12" r="3.7" fill="url(#gi)" stroke="#2a4f9c" stroke-width="0.45"/><path d="M13.30 886.52V889.32M13.30 884.82V885.72" stroke="#fff" stroke-width="1.15"/>
<text class="lg" transform="translate(24.20,889.72) scale(0.845,1)" >NOTE: Convergence criteria met.</text>
<text class="lg" transform="translate(273.60,889.72) scale(0.845,1)" >80</text>
<text class="lg" transform="translate(301.40,889.72) scale(0.845,1)" >RUN;</text>
<text class="lg" transform="translate(492.70,889.72) scale(0.845,1)" >66</text>
<text class="lg" transform="translate(531.70,889.72) scale(0.845,1)" >44</text>
<circle cx="13.30" cy="896.56" r="3.7" fill="url(#gi)" stroke="#2a4f9c" stroke-width="0.45"/><path d="M13.30 895.96V898.76M13.30 894.26V895.16" stroke="#fff" stroke-width="1.15"/>
<text class="lg" transform="translate(24.20,899.16) scale(0.845,1)" >NOTE: There were 74 observations read from the data set WORK.FEC_28DAYS.</text>
<text class="lg" transform="translate(273.60,899.16) scale(0.845,1)" >81</text>
<text class="lg" transform="translate(301.40,899.16) scale(0.845,1)" >RUN;</text>
<text class="lg" transform="translate(492.70,899.16) scale(0.845,1)" >66</text>
<text class="lg" transform="translate(531.70,899.16) scale(0.845,1)" >44</text>
<circle cx="13.30" cy="906.00" r="3.7" fill="url(#gi)" stroke="#2a4f9c" stroke-width="0.45"/><path d="M13.30 905.40V908.20M13.30 903.70V904.60" stroke="#fff" stroke-width="1.15"/>
<text class="lg" transform="translate(24.20,908.60) scale(0.845,1)" >NOTE: PROCEDURE MIXED used (Total process time):</text>
<text class="lg" transform="translate(273.60,908.60) scale(0.845,1)" >82</text>
<text class="lg" transform="translate(301.40,908.60) scale(0.845,1)" >RUN;</text>
<text class="lg" transform="translate(492.70,908.60) scale(0.845,1)" >66</text>
<text class="lg" transform="translate(531.70,908.60) scale(0.845,1)" >44</text>
<circle cx="13.30" cy="915.44" r="3.7" fill="url(#gi)" stroke="#2a4f9c" stroke-width="0.45"/><path d="M13.30 914.84V917.64M13.30 913.14V914.04" stroke="#fff" stroke-width="1.15"/>
<text class="lg" transform="translate(24.20,918.04) scale(0.845,1)" >NOTE: View WORK.SORTTEMPTABLESORTED has been dropped.</text>
<text class="lg" transform="translate(273.60,918.04) scale(0.845,1)" >89</text>
<text class="lg" transform="translate(301.40,918.04) scale(0.845,1)" >%_eg_conditional_dropds(WORK.SORTTempTableSorted);</text>
<text class="lg" transform="translate(492.70,918.04) scale(0.845,1)" >67</text>
<text class="lg" transform="translate(531.70,918.04) scale(0.845,1)" >45</text>
<circle cx="13.30" cy="924.88" r="3.7" fill="url(#gi)" stroke="#2a4f9c" stroke-width="0.45"/><path d="M13.30 924.28V927.08M13.30 922.58V923.48" stroke="#fff" stroke-width="1.15"/>
<text class="lg" transform="translate(24.20,927.48) scale(0.845,1)" >NOTE: PROCEDURE SQL used (Total process time):</text>
<text class="lg" transform="translate(273.60,927.48) scale(0.845,1)" >90</text>
<text class="lg" transform="translate(301.40,927.48) scale(0.845,1)" >%_eg_conditional_dropds(WORK.SORTTempTableSorted);</text>
<text class="lg" transform="translate(492.70,927.48) scale(0.845,1)" >67</text>
<text class="lg" transform="translate(531.70,927.48) scale(0.845,1)" >45</text>
<line x1="6.3" y1="828.7" x2="6.3" y2="957" stroke="#777" stroke-width="0.9"/>
<line x1="578.0" y1="853.6" x2="578.0" y2="862.6" stroke="#8c8c8c" stroke-width="0.9"/>
</g>
</svg></body></html>
